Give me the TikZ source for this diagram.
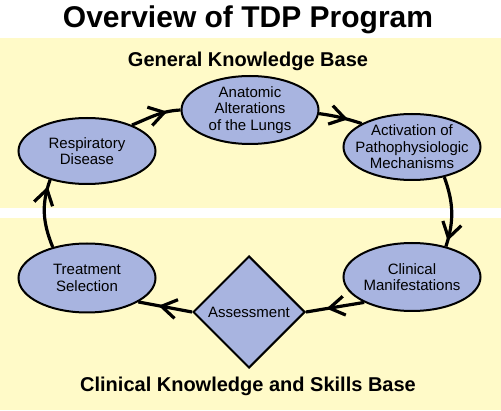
\documentclass[tikz,border=0pt]{standalone}
\usepackage{fontspec}
\setmainfont{Liberation Sans}
\usetikzlibrary{shapes.geometric,decorations.markings}
\definecolor{bandyellow}{RGB}{255,250,200}
\definecolor{nodeblue}{RGB}{168,180,224}
\tikzset{
  x=1pt,y=1pt,
  ell/.style={ellipse,draw=black,line width=2pt,fill=nodeblue,minimum width=137pt,minimum height=66pt,inner sep=0pt},
  dia/.style={diamond,draw=black,line width=2pt,fill=nodeblue,minimum width=112pt,minimum height=112pt,inner sep=0pt,aspect=1,font=\fontsize{15}{17}\selectfont},
  txt/.style={align=center,font=\fontsize{15}{16.5}\selectfont,inner sep=0pt},
  head/.style={font=\bfseries\fontsize{20}{24}\selectfont,anchor=base,inner sep=0pt},
  conn/.style={line width=3.2pt,postaction={decorate},
    decoration={markings,mark=at position #1 with {\draw[line width=3.2pt,line join=miter,line cap=butt] (-14pt,9.5pt) -- (1pt,0pt) -- (-14pt,-9.5pt);}}},
  conn/.default=0.5
}
\begin{document}
\begin{tikzpicture}
\useasboundingbox (0,0) rectangle (501,410);
\fill[white] (0,0) rectangle (501,410);
\fill[bandyellow] (0,202) rectangle (501,372);
\fill[bandyellow] (0,0) rectangle (501,192);

\node[head,font=\bfseries\fontsize{30}{34}\selectfont] (title) at (248,382) {Overview of TDP Program};
\node[head] (gkb) at (248,343) {General Knowledge Base};
\node[head] (ckb) at (248,19) {Clinical Knowledge and Skills Base};

\node[ell,label={[txt]center:Respiratory\\Disease}] (resp) at (87,259) {};
\node[ell,minimum height=68pt,label={[txt]center:Anatomic\\Alterations\\of the Lungs}] (anat) at (250,300) {};
\node[ell,label={[txt]center:Activation of\\Pathophysiologic\\Mechanisms}] (activ) at (412,263) {};
\node[ell,minimum height=69pt,label={[txt]center:Treatment\\Selection}] (treat) at (87,132) {};
\node[ell,minimum height=68pt,label={[txt]center:Clinical\\Manifestations}] (clin) at (412,133) {};
\node[dia] (assess) at (249,98) {Assessment};

\draw[conn=0.66] (resp.30) to[out=22,in=183] (anat.west);
\draw[conn=0.58] (anat.-3) to[out=-8,in=162] (activ.155);
\draw[conn=0.86] (activ.-43) to[out=-70,in=72] (clin.42);
\draw[conn=0.58] (clin.208) -- (assess.east);
\draw[conn=0.55] (assess.west) -- (treat.-25);
\draw[conn=0.84] (treat.138) to[out=112,in=250] (resp.218);
\end{tikzpicture}
\end{document}
